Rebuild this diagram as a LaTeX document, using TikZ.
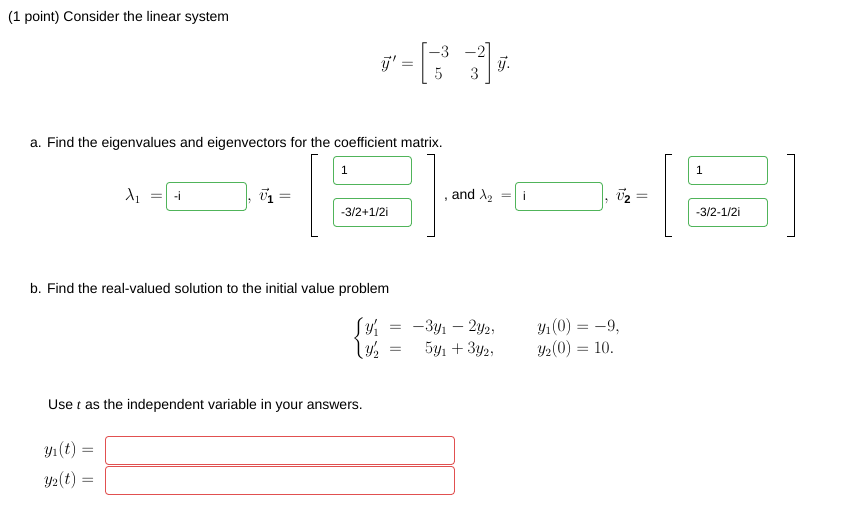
\documentclass[tikz,border=0pt]{standalone}
\usepackage{amsmath}
\usepackage{fontspec}
\setmainfont{Liberation Sans}
\newfontfamily\mserif{Liberation Serif}
\definecolor{okg}{RGB}{80,180,90}
\definecolor{badr}{RGB}{225,80,80}
\begin{document}
\begin{tikzpicture}[x=1pt,y=-1pt,
  txt/.style={anchor=west,inner sep=0pt,font=\fontsize{14}{16}\selectfont},
  ans/.style={draw=okg,line width=0.9pt,rounded corners=3pt,fill=white,anchor=north west,minimum height=28pt,inner sep=0pt},
  bad/.style={draw=badr,line width=0.9pt,rounded corners=3pt,fill=white,anchor=north west,minimum height=28pt,inner sep=0pt},
  atxt/.style={anchor=west,inner sep=0pt,font=\fontsize{12}{14}\selectfont},
  mth/.style={inner sep=0pt,font=\fontsize{16}{19}\selectfont}]
\useasboundingbox (0,0) rectangle (844,511);
\node[txt] (t0) at (8,18) {(1 point) Consider the linear system};
\node[mth,font=\fontsize{18}{22}\selectfont] (eq) at (446,64) {$\vec{y}\,'=\begin{bmatrix}-3&\;-2\\5&\;3\end{bmatrix}\vec{y}.$};
\node[txt] (ta) at (30,144) {a. Find the eigenvalues and eigenvectors for the coefficient matrix.};
\node[mth,anchor=east] (l1) at (163,196) {$\lambda_1\;=$};
\node[ans,minimum width=80pt] (b1) at (166,182) {};
\node[atxt] at (174,196) {-i};
\node[mth,anchor=west] (v1) at (247,196) {$,\ \vec{v}_{\mathbf 1}=$};
\draw[line width=0.8pt] (318,154) -- (311,154) -- (311,236) -- (318,236);
\draw[line width=0.8pt] (427,154) -- (434,154) -- (434,236) -- (427,236);
\node[ans,minimum width=78pt] (b2) at (333,156) {};
\node[atxt] at (341,170) {1};
\node[ans,minimum width=78pt] (b3) at (333,198) {};
\node[atxt] at (341,212) {-3/2+1/2i};
\node[mth,anchor=east] (l2) at (512,196) {\fontsize{14}{16}\selectfont, and $\lambda_2\;=$};
\node[ans,minimum width=87pt] (b4) at (515,182) {};
\node[atxt] at (523,196) {i};
\node[mth,anchor=west] (v2) at (604,196) {$,\ \vec{v}_{\mathbf 2}=$};
\draw[line width=0.8pt] (672,154) -- (665,154) -- (665,236) -- (672,236);
\draw[line width=0.8pt] (787,154) -- (794,154) -- (794,236) -- (787,236);
\node[ans,minimum width=79pt] (b5) at (688,156) {};
\node[atxt] at (696,170) {1};
\node[ans,minimum width=79pt] (b6) at (688,198) {};
\node[atxt] at (696,212) {-3/2-1/2i};
\node[txt] (tb) at (30,290) {b. Find the real-valued solution to the initial value problem};
\node[mth,anchor=west] (sys) at (352,339) {$\left\{\begin{array}{@{}lcll} y_1' &=& -3y_1-2y_2, &\qquad y_1(0)=-9,\\[3pt] y_2' &=& \phantom{-}5y_1+3y_2, &\qquad y_2(0)=10.\end{array}\right.$};
\node[txt] (tu) at (48,406) {Use \textit{\mserif t} as the independent variable in your answers.};
\node[mth,anchor=west] (y1) at (44,450) {$y_1(t)=$};
\node[bad,minimum width=349pt] (r1) at (105,436) {};
\node[mth,anchor=west] (y2) at (44,480) {$y_2(t)=$};
\node[bad,minimum width=349pt] (r2) at (105,466) {};
\end{tikzpicture}
\end{document}
